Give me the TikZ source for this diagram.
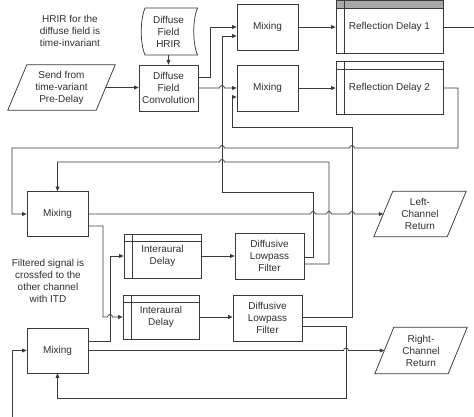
\documentclass[tikz,border=0pt]{standalone}
\usepackage{fontspec}
\setmainfont{Liberation Sans}
\usetikzlibrary{arrows.meta}
\definecolor{ln}{HTML}{3A3A3A}
\definecolor{tx}{HTML}{303030}
\definecolor{band}{HTML}{A8A8A8}
\begin{document}
\begin{tikzpicture}[x=1pt,y=-1pt,
  font=\fontsize{10}{12}\selectfont, text=tx,
  line/.style={draw=ln,line width=0.75pt},
  arr/.style={line,-{Triangle[length=4.5pt,width=3.8pt]}},
  box/.style={line,rectangle,align=center,inner sep=0pt},
  plain/.style={rectangle,align=center,inner sep=0pt},
  store/.style={box,path picture={
     \draw[ln,line width=0.75pt] ([yshift=-7.5pt]path picture bounding box.north west) -- ([yshift=-7.5pt]path picture bounding box.north east);
     \draw[ln,line width=0.75pt] ([xshift=8pt]path picture bounding box.north west) -- ([xshift=8pt]path picture bounding box.south west);}},
  storeg/.style={box,path picture={
     \fill[band] (path picture bounding box.north west) rectangle ([yshift=-7.5pt]path picture bounding box.north east);
     \draw[ln,line width=0.75pt] ([yshift=-7.5pt]path picture bounding box.north west) -- ([yshift=-7.5pt]path picture bounding box.north east);
     \draw[ln,line width=0.75pt] ([xshift=8pt]path picture bounding box.north west) -- ([xshift=8pt]path picture bounding box.south west);}},
  hr/.style={insert path={arc[start angle=180,end angle=0,radius=2.5pt]}},
  hl/.style={insert path={arc[start angle=0,end angle=180,radius=2.5pt]}}
]
\useasboundingbox[fill=white] (0,0) rectangle (474,417);

% ---- nodes ----
\node[plain] (hrirtxt) at (70,30.5) {HRIR for the\\diffuse field is\\time-invariant};
\node[plain,minimum width=52pt,minimum height=47pt] (dfh) at (168.5,31.5) {Diffuse\\Field\\HRIR};
\node[plain,minimum width=88pt,minimum height=45pt] (send) at (61.5,87.5) {Send from\\time-variant\\Pre-Delay};
\node[box,minimum width=59pt,minimum height=46pt] (dfc) at (168.5,88) {Diffuse\\Field\\Convolution};
\node[box,minimum width=61pt,minimum height=46pt] (mix1) at (267.5,27) {Mixing};
\node[box,minimum width=61pt,minimum height=46pt] (mix2) at (267.5,88) {Mixing};
\node[storeg,minimum width=107pt,minimum height=53pt] (rd1) at (389.5,27) {Reflection Delay 1};
\node[store,minimum width=107pt,minimum height=53pt] (rd2) at (389.5,88) {Reflection Delay 2};
\node[box,minimum width=61pt,minimum height=45pt] (mixL) at (57.5,214) {Mixing};
\node[plain,minimum width=73pt,minimum height=45pt] (lcr) at (420,214) {Left-\\Channel\\Return};
\node[store,minimum width=77pt,minimum height=44pt] (id1) at (162.5,256) {Interaural\\Delay};
\node[box,minimum width=69pt,minimum height=46pt] (lpf1) at (269.5,256) {Diffusive\\Lowpass\\Filter};
\node[plain] (filtxt) at (48,281) {Filtered signal is\\crossfed to the\\other channel\\with ITD};
\node[store,minimum width=76pt,minimum height=44pt] (id2) at (161,317) {Interaural\\Delay};
\node[box,minimum width=69pt,minimum height=46pt] (lpf2) at (267.5,318) {Diffusive\\Lowpass\\Filter};
\node[box,minimum width=61pt,minimum height=45pt] (mixR) at (57.5,350.5) {Mixing};
\node[plain,minimum width=73pt,minimum height=46pt] (rcr) at (421,350.5) {Right-\\Channel\\Return};
\coordinate (rdout) at (474,27);
\coordinate (bin) at (12,417);

% ---- special outlines ----
\draw[line] (145,8) -- (197.5,8) .. controls (192.5,20) and (192.5,43) .. (197.5,55)
  -- (145,55) .. controls (140,43) and (140,20) .. (145,8);
\foreach \n in {send,lcr,rcr}{
  \draw[line] ([xshift=-9.5pt]\n.south west) -- ([xshift=-9.5pt]\n.south east)
    -- ([xshift=9.5pt]\n.north east) -- ([xshift=9.5pt]\n.north west) -- cycle;
}

% ---- connectors ----
\draw[arr] (dfh.south) -- (dfc.north);
\draw[arr] (send.east) -- (send.east -| dfc.west);
\draw[arr] ([yshift=11pt]dfc.east) -- ++(12,0) |- (mix1.west);
\draw[arr] (dfc.east) -- (219.5,88) [hr] -- (mix2.west);
\draw[arr] (mix1.east) -- (rd1.west);
\draw[arr] (mix2.east) -- (rd2.west);
\draw[line] (rd1.east) -- (rdout);
\draw[arr] ([yshift=-1pt]lpf1.east) -- (313,257) -- (313,192) -- (222,192) |- ([yshift=-9pt]mix1.west);
\draw[arr] ([yshift=-8pt]lpf1.east) -- (329,264) -- (329,162) -- (224.5,162) [hl] -| (mixL.north);
\draw[arr] (rd2.east) -| (458,148) -- (354.5,148) [hl] -- (224.5,148) [hl] -- (12,148) |- (mixL.west);
\draw[arr] (mixL.east) -- (310.5,214) [hr] -- (326.5,214) [hr] -- (349.5,214) [hr] -- (lcr.west);
\draw[arr] ([yshift=-12pt]mixL.east) -- (103,226) -- (103,317) -- (107.5,317) [hr] -- (id2.west);
\draw[arr] ([yshift=9pt]mixR.east) -- (110,341.5) |- (id1.west);
\draw[arr] (id1.east) -- (lpf1.west);
\draw[arr] (id2.east) -- (id2.east -| lpf2.west);
\draw[arr] ([yshift=1pt]lpf2.east) -- (352,317) -- (352,127) -- (232,127) |- ([yshift=-9pt]mix2.west);
\draw[arr] ([yshift=-8pt]lpf2.east) -- (346,326) -- (346,398) -| (mixR.south);
\draw[arr] (mixR.east) -- (343.5,350.5) [hr] -- (rcr.west);
\draw[arr] (bin) |- (mixR.west);
\end{tikzpicture}
\end{document}
